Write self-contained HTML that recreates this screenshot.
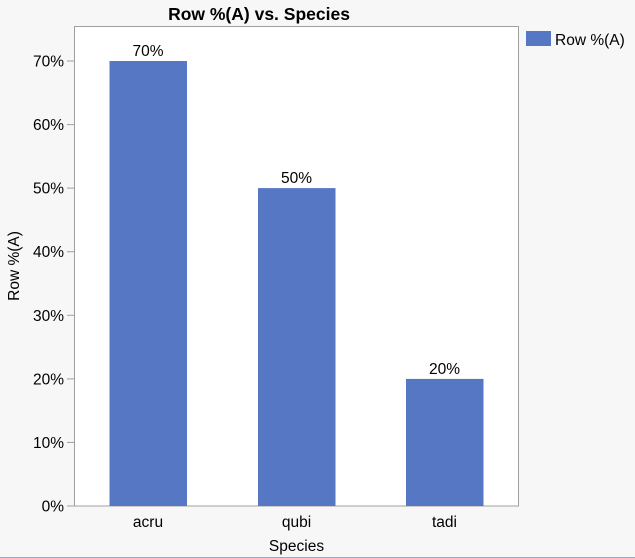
<!DOCTYPE html>
<html><head><meta charset="utf-8"><style>
html,body{margin:0;padding:0;background:#f7f7f7;}
svg{display:block;font-family:"Liberation Sans",sans-serif;}
</style></head><body>
<svg width="635" height="558" viewBox="0 0 635 558" xmlns="http://www.w3.org/2000/svg">
<rect x="0" y="0" width="635" height="558" fill="#f7f7f7"/>
<rect x="74.5" y="26.5" width="444" height="479.5" fill="#fff" stroke="#a0a0a0" stroke-width="1"/>
<text x="259" y="20" text-anchor="middle" font-size="17.5" font-weight="bold" fill="#000">Row %(A) vs. Species</text>
<g stroke="#a0a0a0" stroke-width="1">
<line x1="67" x2="74.5" y1="506" y2="506"/><line x1="67" x2="74.5" y1="442.4" y2="442.4"/>
<line x1="67" x2="74.5" y1="378.9" y2="378.9"/><line x1="67" x2="74.5" y1="315.3" y2="315.3"/>
<line x1="67" x2="74.5" y1="251.7" y2="251.7"/><line x1="67" x2="74.5" y1="188.1" y2="188.1"/>
<line x1="67" x2="74.5" y1="124.6" y2="124.6"/><line x1="67" x2="74.5" y1="61" y2="61"/>
</g>
<g font-size="15.5" fill="#000" text-anchor="end">
<text x="64" y="511.5">0%</text><text x="64" y="447.9">10%</text><text x="64" y="384.4">20%</text>
<text x="64" y="320.8">30%</text><text x="64" y="257.2">40%</text><text x="64" y="193.6">50%</text>
<text x="64" y="130.1">60%</text><text x="64" y="66.5">70%</text>
</g>
<text transform="translate(19,266) rotate(-90)" text-anchor="middle" font-size="15.5" fill="#000">Row %(A)</text>
<g fill="#5677c4">
<rect x="109.5" y="61" width="77.5" height="445"/>
<rect x="258" y="188.1" width="77.5" height="317.9"/>
<rect x="406" y="378.9" width="77.5" height="127.1"/>
</g>
<g font-size="15.5" fill="#000" text-anchor="middle">
<text x="148" y="56">70%</text><text x="296.5" y="183">50%</text><text x="444.5" y="374">20%</text>
<text x="148" y="527">acru</text><text x="296.5" y="527">qubi</text><text x="444.5" y="527">tadi</text>
<text x="296.5" y="551">Species</text>
</g>
<rect x="526" y="31" width="25" height="15" fill="#5677c4"/>
<text x="555" y="45" font-size="15.5" fill="#000">Row %(A)</text>
<line x1="0" x2="635" y1="557.5" y2="557.5" stroke="#a0a8c0" stroke-width="1"/>
</svg>
</body></html>
